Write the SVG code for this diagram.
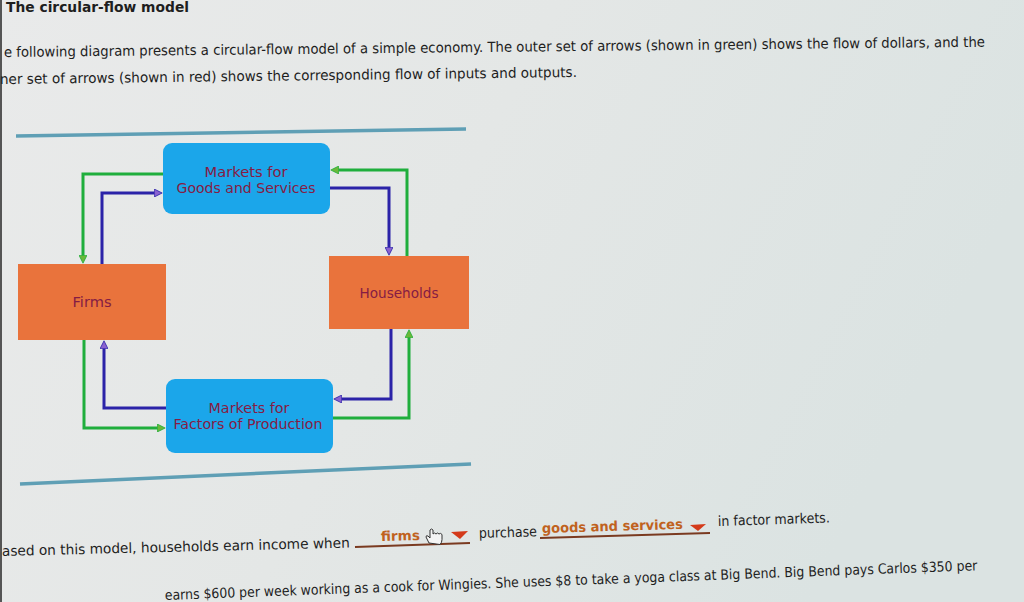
<svg xmlns="http://www.w3.org/2000/svg" width="1024" height="602" viewBox="0 0 1024 602">
<defs>
<linearGradient id="bg" x1="0" y1="0" x2="1" y2="0.3">
<stop offset="0" stop-color="#e9eaea"/>
<stop offset="0.5" stop-color="#e4e7e6"/>
<stop offset="1" stop-color="#dbe3e2"/>
</linearGradient>
<marker id="ag" viewBox="0 0 10 10" refX="6" refY="5" markerWidth="9" markerHeight="8" markerUnits="userSpaceOnUse" orient="auto">
<path d="M0,0 L10,5 L0,10 Z" fill="#6bb83a" stroke="#1fae3c" stroke-width="1"/>
</marker>
<marker id="ab" viewBox="0 0 10 10" refX="6" refY="5" markerWidth="9" markerHeight="8" markerUnits="userSpaceOnUse" orient="auto">
<path d="M0,0 L10,5 L0,10 Z" fill="#8a62d0" stroke="#2b23a8" stroke-width="1"/>
</marker>
</defs>
<style>
.t{font-family:"DejaVu Sans","Liberation Sans",sans-serif;font-size:14px;fill:#1e1e1e}
.b{font-weight:bold}
.ans{font-family:"DejaVu Sans","Liberation Sans",sans-serif;font-size:13.5px;font-weight:bold;fill:#c0621e}
.lbl{font-family:"DejaVu Sans","Liberation Sans",sans-serif;font-size:14px;fill:#851c44;text-anchor:middle}
.mk{fill:#1ba6ea}
.org{fill:#e9733c}
.g{fill:none;stroke:#1fae3c;stroke-width:3;marker-end:url(#ag)}
.bl{fill:none;stroke:#2b23a8;stroke-width:3;marker-end:url(#ab)}
.rule{stroke:#5f9fb5;stroke-width:3.5}
.ul{stroke:#7a3a20;stroke-width:2}
.tri{fill:#d43a1a}
</style>
<rect x="0" y="0" width="1024" height="602" fill="url(#bg)"/>
<line x1="1" y1="0" x2="1" y2="602" stroke="#555" stroke-width="2"/>

<text class="t b" x="6" y="12" textLength="183" lengthAdjust="spacingAndGlyphs">The circular-flow model</text>
<text class="t" x="4" y="57" transform="rotate(-0.6 4 57)" textLength="981" lengthAdjust="spacingAndGlyphs">e following diagram presents a circular-flow model of a simple economy. The outer set of arrows (shown in green) shows the flow of dollars, and the</text>
<text class="t" x="0" y="84" transform="rotate(-0.7 0 84)" textLength="577" lengthAdjust="spacingAndGlyphs">ner set of arrows (shown in red) shows the corresponding flow of inputs and outputs.</text>

<line class="rule" x1="16" y1="136" x2="466" y2="129"/>
<line class="rule" x1="20" y1="484" x2="471" y2="464"/>

<g id="connectors">
<path class="g" d="M163,174 H83 V260"/>
<path class="g" d="M407,256 V170 H334"/>
<path class="g" d="M84,340 V428 H162"/>
<path class="g" d="M333,418 H409 V333"/>
<path class="bl" d="M102,264 V193 H159"/>
<path class="bl" d="M330,188 H389 V252"/>
<path class="bl" d="M391,329 V399 H337"/>
<path class="bl" d="M166,408 H104 V344"/>
</g>

<g id="goods-market">
<rect class="mk" x="163" y="143" width="167" height="71" rx="9"/>
<text class="lbl" x="246" y="177" textLength="83" lengthAdjust="spacingAndGlyphs">Markets for</text>
<text class="lbl" x="246" y="193" textLength="139" lengthAdjust="spacingAndGlyphs">Goods and Services</text>
</g>
<g id="firms">
<rect class="org" x="18" y="264" width="148" height="76"/>
<text class="lbl" x="92" y="307" textLength="39" lengthAdjust="spacingAndGlyphs">Firms</text>
</g>
<g id="households">
<rect class="org" x="329" y="256" width="140" height="73"/>
<text class="lbl" x="399" y="298" textLength="79" lengthAdjust="spacingAndGlyphs">Households</text>
</g>
<g id="factors-market">
<rect class="mk" x="166" y="379" width="167" height="74" rx="9"/>
<text class="lbl" x="249" y="413" textLength="81" lengthAdjust="spacingAndGlyphs">Markets for</text>
<text class="lbl" x="248" y="429" textLength="149" lengthAdjust="spacingAndGlyphs">Factors of Production</text>
</g>

<text class="t" x="2" y="556" transform="rotate(-1.4 2 556)" textLength="348" lengthAdjust="spacingAndGlyphs">ased on this model, households earn income when</text>
<line class="ul" x1="355" y1="547" x2="470" y2="543"/>
<text class="ans" x="381" y="541" transform="rotate(-1.5 381 541)" textLength="39" lengthAdjust="spacingAndGlyphs">firms</text>
<path d="M429,543 l-3,-6 q0,-2 2,-1 l2,2 v-8 q1.5,-2 3,0 v4 q1.5,-2 3,0 q1.5,-2 3,0 q1.5,-1.5 3,0.5 v5 q0,3 -2,5 z" fill="#f4f4f4" stroke="#333" stroke-width="1"/>
<path class="tri" d="M451,532 L468,531 L460,539 Z"/>
<text class="t" x="479" y="538" transform="rotate(-1.6 479 538)" textLength="58" lengthAdjust="spacingAndGlyphs">purchase</text>
<line class="ul" x1="540" y1="538" x2="710" y2="533"/>
<text class="ans" x="542" y="533" transform="rotate(-1.7 542 533)" textLength="141" lengthAdjust="spacingAndGlyphs">goods and services</text>
<path class="tri" d="M690,525 L706,524 L698,531 Z"/>
<text class="t" x="718" y="526" transform="rotate(-1.8 718 526)" textLength="112" lengthAdjust="spacingAndGlyphs">in factor markets.</text>
<text class="t" x="165" y="600" transform="rotate(-2.1 165 600)" textLength="813" lengthAdjust="spacingAndGlyphs">earns $600 per week working as a cook for Wingies. She uses $8 to take a yoga class at Big Bend. Big Bend pays Carlos $350 per</text>
</svg>
